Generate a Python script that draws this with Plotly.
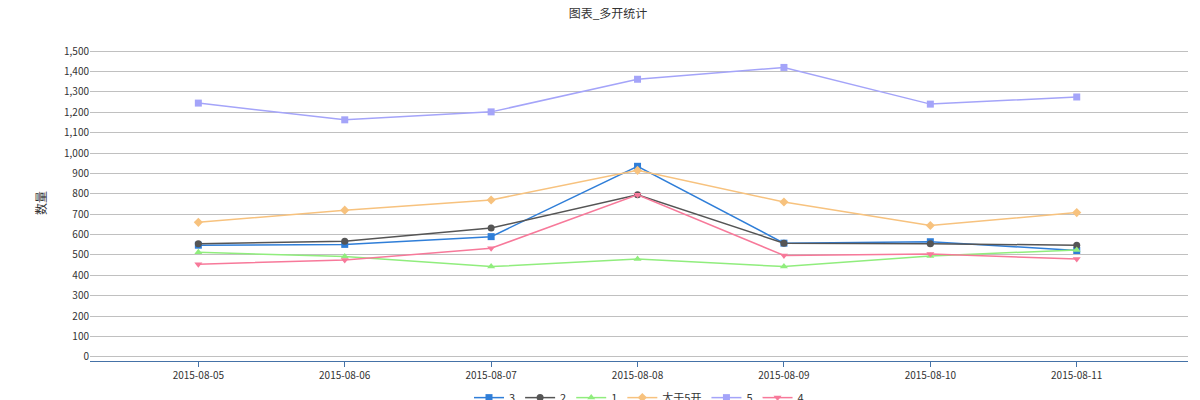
import plotly.graph_objects as go

dates = ['2015-08-05', '2015-08-06', '2015-08-07', '2015-08-08',
         '2015-08-09', '2015-08-10', '2015-08-11']
s3 = [548, 552, 590, 935, 558, 565, 522]
s2 = [555, 567, 632, 795, 558, 555, 548]
s1 = [513, 493, 443, 480, 443, 495, 525]
s_gt5 = [660, 720, 770, 915, 760, 645, 708]
s5 = [1245, 1163, 1202, 1362, 1420, 1240, 1275]
s4 = [455, 475, 533, 795, 498, 505, 480]

series = [
    ('3', s3, '#2f7ed8', 'square'),
    ('2', s2, '#555555', 'circle'),
    ('1', s1, '#90ed7d', 'triangle-up'),
    ('大于5开', s_gt5, '#f7c27e', 'diamond'),
    ('5', s5, '#a4a4f9', 'square'),
    ('4', s4, '#f7799a', 'triangle-down'),
]

fig = go.Figure()
for name, vals, color, sym in series:
    fig.add_trace(go.Scatter(
        x=list(range(len(dates))), y=vals, name=name, mode='lines+markers',
        line=dict(color=color, width=1.5),
        marker=dict(color=color, symbol=sym, size=7)))

fig.update_layout(
    width=1200, height=400,
    margin=dict(l=82, r=20, t=37, b=47, autoexpand=False),
    paper_bgcolor='white', plot_bgcolor='white',
    font=dict(family='Noto Sans CJK SC, DejaVu Sans', size=11, color='#333'),
    title=dict(text='图表_多开统计', x=0.5, y=0.995, xanchor='center',
               yanchor='top', font=dict(size=12, color='#333')),
    legend=dict(orientation='h', x=0.5, xanchor='center', y=-0.07,
                yanchor='top', font=dict(size=11), itemwidth=30,
                tracegroupgap=0),
    showlegend=True,
)
fig.update_xaxes(
    tickmode='array', tickvals=list(range(len(dates))), ticktext=dates,
    range=[-0.74, 6.76], showgrid=False, zeroline=False, automargin=False,
    showline=True, linecolor='#4572a7', linewidth=1,
    ticks='outside', ticklen=5, tickcolor='#4572a7', tickfont=dict(size=10))
fig.update_yaxes(
    range=[-20, 1530], dtick=100, tickformat=',', gridcolor='#c0c0c0',
    zeroline=False, automargin=False,
    title=dict(text='数量', font=dict(size=12), standoff=14),
    tickfont=dict(size=10))

fig.write_html('out.html')
